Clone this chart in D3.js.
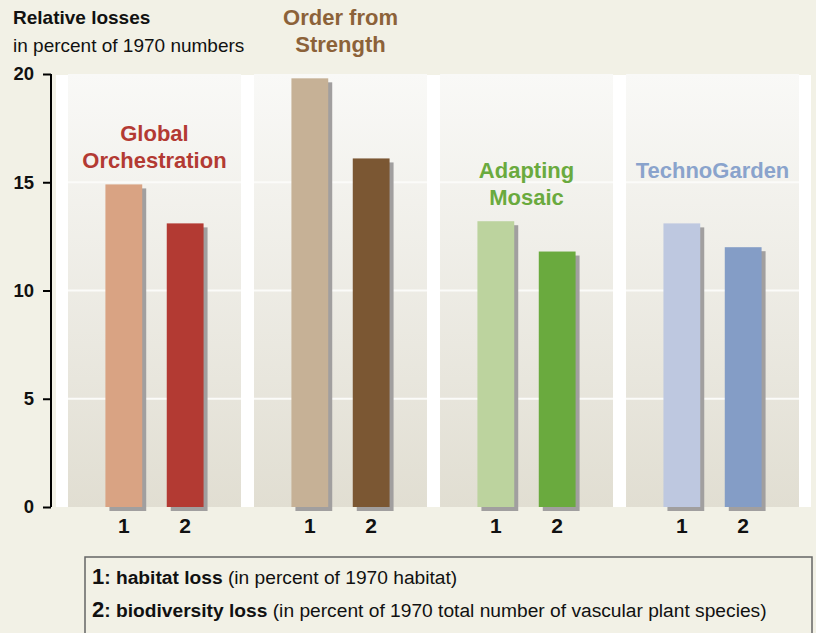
<!DOCTYPE html>
<html>
<head>
<meta charset="utf-8">
<script src="https://cdn.jsdelivr.net/npm/d3@7"></script>
<style>
  html, body { margin: 0; padding: 0; background: #f2f1e6; }
  svg { display: block; font-family: "Liberation Sans", Arial, sans-serif; }
</style>
</head>
<body>
<svg id="chart" width="816" height="633"></svg>
<script>
// Scenario names, split into display lines
const scenarios = ["Global Orchestration", "Order from Strength", "Adapting Mosaic", "TechnoGarden"];
const scenarioLines = [["Global", "Orchestration"], ["Order from", "Strength"], ["Adapting", "Mosaic"], ["TechnoGarden"]];
const measures = ["1", "2"];
// 1: habitat loss, 2: biodiversity loss (percent of 1970 numbers)
const habitatLoss = [14.9, 19.8, 13.2, 13.1];
const biodiversityLoss = [13.1, 16.1, 11.8, 12.0];
const yTicks = [0, 5, 10, 15, 20];

// Styling per scenario
const lightColors = ["#d9a383", "#c6b196", "#bcd39e", "#bec8e0"];
const darkColors = ["#b33a33", "#7b5733", "#6aaa3e", "#849dc6"];
const labelColors = ["#b33a33", "#8c6239", "#6aaa3e", "#8aa3cc"];
const labelBaseline = [168, 52, 205, 178];

const svg = d3.select("#chart");

const y = d3.scaleLinear().domain([0, 20]).range([507, 74]);
const x = d3.scaleBand().domain(scenarios).range([56, 811])
  .paddingInner(0.07).paddingOuter(0.0645);
const xs = d3.scaleBand().domain(measures).range([0, x.bandwidth()])
  .paddingInner(0.4).paddingOuter(0.61);

// Panel gradient
const defs = svg.append("defs");
const grad = defs.append("linearGradient").attr("id", "panelGrad")
  .attr("x1", 0).attr("y1", 0).attr("x2", 0).attr("y2", 1);
grad.append("stop").attr("offset", "0%").attr("stop-color", "#f9f9f7");
grad.append("stop").attr("offset", "100%").attr("stop-color", "#e1ded2");

// White frame behind panels
svg.append("rect")
  .attr("x", x.range()[0]).attr("y", y(20) + 1)
  .attr("width", x.range()[1] - x.range()[0]).attr("height", y(0) - y(20) - 1)
  .attr("fill", "#ffffff");

const panels = svg.selectAll("g.panel").data(scenarios).join("g")
  .attr("class", "panel")
  .attr("transform", d => `translate(${x(d)},0)`);

panels.append("rect")
  .attr("x", 0).attr("y", y(20))
  .attr("width", x.bandwidth()).attr("height", y(0) - y(20))
  .attr("fill", "url(#panelGrad)");

// Grid lines inside panels
panels.selectAll("line.grid").data(yTicks.filter(t => t > 0 && t < 20)).join("line")
  .attr("class", "grid")
  .attr("x1", 0).attr("x2", x.bandwidth())
  .attr("y1", d => y(d)).attr("y2", d => y(d))
  .attr("stroke", "#fbfbf9").attr("stroke-width", 2);

// Bars with drop shadows
const barData = scenarios.flatMap((s, i) => [
  { s, i, m: "1", v: habitatLoss[i], c: lightColors[i] },
  { s, i, m: "2", v: biodiversityLoss[i], c: darkColors[i] }
]);

svg.selectAll("rect.shadow").data(barData).join("rect")
  .attr("class", "shadow")
  .attr("x", d => x(d.s) + xs(d.m) + 4)
  .attr("y", d => y(d.v) + 4)
  .attr("width", xs.bandwidth())
  .attr("height", d => y(0) - y(d.v))
  .attr("fill", "#a19f9f");

svg.selectAll("rect.bar").data(barData).join("rect")
  .attr("class", "bar")
  .attr("x", d => x(d.s) + xs(d.m))
  .attr("y", d => y(d.v))
  .attr("width", xs.bandwidth())
  .attr("height", d => y(0) - y(d.v))
  .attr("fill", d => d.c);

// Category numbers under bars
svg.selectAll("text.cat").data(barData).join("text")
  .attr("class", "cat")
  .attr("x", d => x(d.s) + xs(d.m) + xs.bandwidth() / 2)
  .attr("y", 533)
  .attr("text-anchor", "middle")
  .attr("font-size", 21).attr("font-weight", "bold").attr("fill", "#111")
  .text(d => d.m);

// Scenario labels
scenarios.forEach((s, i) => {
  const lines = scenarioLines[i];
  const t = svg.append("text")
    .attr("text-anchor", "middle")
    .attr("font-size", 22).attr("font-weight", "bold")
    .attr("fill", labelColors[i]);
  lines.forEach((ln, j) => {
    t.append("tspan")
      .attr("x", x(s) + x.bandwidth() / 2)
      .attr("y", labelBaseline[i] - (lines.length - 1 - j) * 27)
      .text(ln);
  });
});

// Y axis
const axis = d3.axisLeft(y).tickValues(yTicks).tickSize(8).tickPadding(9);
const gAxis = svg.append("g").attr("transform", "translate(51,0)").call(axis);
gAxis.select(".domain").attr("d", `M0,${y(20)}V${y(0)}`).attr("stroke", "#000").attr("stroke-width", 2);
gAxis.selectAll(".tick line").attr("stroke", "#000").attr("stroke-width", 2);
gAxis.selectAll(".tick text")
  .attr("font-size", 18.5).attr("font-weight", "bold").attr("fill", "#111")
  .attr("font-family", "Liberation Sans, Arial, sans-serif");

// Axis title
svg.append("text").attr("x", 13).attr("y", 24)
  .attr("font-size", 19).attr("font-weight", "bold").attr("fill", "#111")
  .text("Relative losses");
svg.append("text").attr("x", 13).attr("y", 52)
  .attr("font-size", 19).attr("fill", "#111")
  .text("in percent of 1970 numbers");

// Legend
svg.append("rect").attr("x", 85).attr("y", 557)
  .attr("width", 727).attr("height", 90)
  .attr("fill", "#f2f1e6").attr("stroke", "#666").attr("stroke-width", 1.5);

const legendRows = [
  ["1", "habitat loss", "(in percent of 1970 habitat)"],
  ["2", "biodiversity loss", "(in percent of 1970 total number of vascular plant species)"]
];
legendRows.forEach((r, i) => {
  const t = svg.append("text").attr("x", 92).attr("y", 584 + i * 33)
    .attr("fill", "#111").attr("font-size", 19.2);
  t.append("tspan").attr("font-size", 22).attr("font-weight", "bold").text(r[0]);
  t.append("tspan").attr("font-weight", "bold").text(": " + r[1] + " ");
  t.append("tspan").text(r[2]);
});
</script>
</body>
</html>
